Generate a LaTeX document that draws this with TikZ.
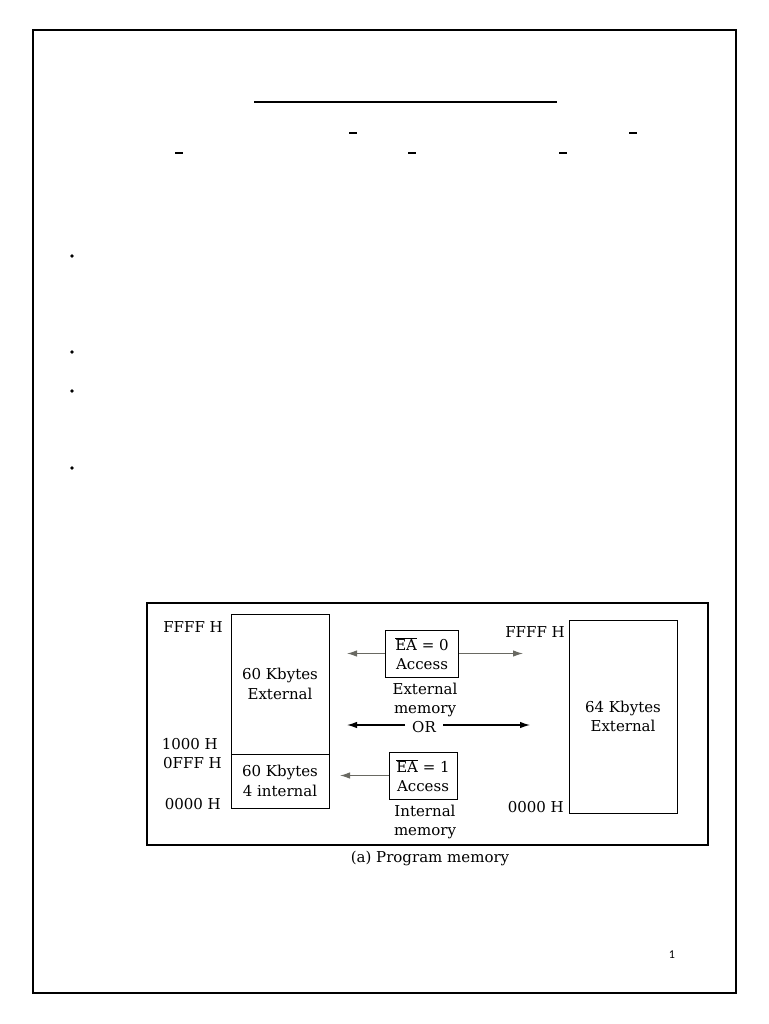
\documentclass[tikz,border=0pt]{standalone}
\usepackage{fontspec}
\setmainfont{DejaVu Serif}
\newfontfamily\pagenumfont{Carlito}
\usetikzlibrary{arrows.meta}
\definecolor{arrowgray}{RGB}{105,105,98}

\begin{document}
\begin{tikzpicture}
        [x=1pt, y=-1pt,
        txt/.style={font=\fontsize{15}{19.5}\selectfont, inner sep=0pt, align=center},
        addr/.style={txt, anchor=east},
        block/.style={draw, line width=0.9pt, txt},
        eabox/.style={draw, line width=0.9pt, txt, minimum width=73pt, minimum height=47pt},
        grayarrow/.style={arrowgray, line width=1.1pt, -{Latex[length=10pt,width=6.5pt]}},
        blackarrow/.style={black, line width=1.2pt, -{Latex[length=10pt,width=6.5pt]}}]

        \useasboundingbox (0,0) rectangle (768,1024);

        % page border, title rule and leftovers of the text
        \draw[line width=2pt] (33,30) rectangle (736,993);
        \draw[line width=2pt] (254,102) -- (557,102);
        \foreach \x/\y in {353/133, 633/133, 179/153, 412/153, 563/153}
            \draw[line width=1.2pt] (\x-4,\y) -- (\x+4,\y);
        \foreach \y in {256, 352, 391, 468}
            \fill (72,\y) circle (1.8);
        \node[font=\pagenumfont\fontsize{12}{14}\selectfont] (pagenum) at (672,955) {1};

        % figure frame
        \draw[line width=1.3pt] (147,603) rectangle (708,845);

        % memory blocks
        \node[block, minimum width=98pt, minimum height=140pt] (extmem) at (280,684) {60 Kbytes\\External};
        \node[block, minimum width=98pt, minimum height=54pt] (intmem) at (280,781) {60 Kbytes\\4 internal};
        \node[block, minimum width=108pt, minimum height=193pt] (fullmem) at (623,716.5) {64 Kbytes\\External};

        % addresses
        \node[addr] (lffff) at (223,627) {FFFF H};
        \node[addr] (l1000) at (218,744) {1000 H};
        \node[addr] (l0fff) at (222,763) {0FFF H};
        \node[addr] (l0000) at (221,804) {0000 H};
        \node[addr] (rffff) at (565,632) {FFFF H};
        \node[addr] (r0000) at (564,807) {0000 H};

        % EA selection
        \node[eabox] (ea0) at (422,653.5) {$\overline{\hbox{EA}}$ = 0\\Access};
        \node[txt] (extnote) at (425,700) {External\\memory};
        \node[txt, inner xsep=7pt] (or) at (424,727) {OR};
        \node[eabox, minimum width=68pt] (ea1) at (423,775.5) {$\overline{\hbox{EA}}$ = 1\\Access};
        \node[txt] (intnote) at (425,822) {Internal\\memory};

        \coordinate (extL) at (347,653.5);
        \coordinate (extR) at (523,653.5);
        \coordinate (orL) at (347,725);
        \coordinate (orR) at (530,725);
        \coordinate (intL) at (340,775.5);

        \draw[grayarrow] (ea0) -- (extL);
        \draw[grayarrow] (ea0) -- (extR);
        \draw[blackarrow] (or.west |- orL) -- (orL);
        \draw[blackarrow] (or.east |- orR) -- (orR);
        \draw[grayarrow] (ea1) -- (intL);

        % caption
        \node[txt] (caption) at (430,858) {(a) Program memory};

\end{tikzpicture}
\end{document}
